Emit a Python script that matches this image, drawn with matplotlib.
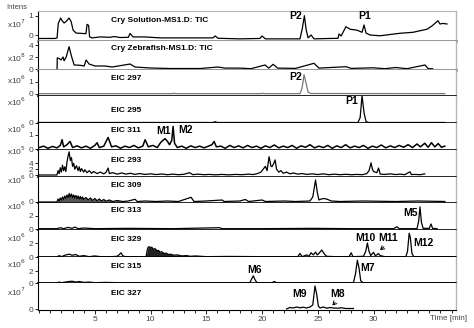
import matplotlib
matplotlib.use('Agg')
import matplotlib.pyplot as plt
from matplotlib.ticker import MultipleLocator

plt.rcParams['font.family'] = ['Liberation Sans', 'DejaVu Sans']

W, H = 474, 328

# ---- data (time in min, intensity in the unit of each panel) ----
tic_sol_t = [0.0, 1.43, 1.61, 1.72, 1.93, 2.06, 2.24, 2.42, 2.69, 2.87, 3.05, 3.32, 4.20, 4.30, 4.44,
             4.53, 4.75, 5.47, 6.37, 6.73, 7.26, 8.0, 8.16, 8.43, 9.5, 10.85, 12.6, 14.4, 15.6, 15.8,
             16.05, 18.0, 19.8, 20.0, 20.3, 23.4, 23.6, 23.8, 23.95, 24.13, 24.4, 24.66, 26.82, 26.9,
             27.09, 27.53, 27.89, 28.52, 28.97, 29.15, 29.33, 29.69, 30.58, 32.38, 33.54, 34.8, 35.25,
             35.78, 35.96, 36.23, 36.59]
tic_sol_y = [-0.18, -0.18, -0.15, 0.6, 0.88, 0.75, 0.62, 0.70, 0.88, 0.70, 0.25, 0.10, 0.07, 0.55, 0.50,
             -0.10, -0.15, -0.10, -0.12, -0.08, -0.13, -0.12, 0.08, -0.10, -0.10, -0.15, -0.15, -0.15, -0.15, -0.05,
             -0.17, -0.2, -0.18, -0.05, -0.2, -0.2, 0.3, 1.0, 0.3, -0.15, 0.0, -0.2, -0.17, 0.05,
             -0.05, 0.43, 0.3, 0.25, 0.14, 0.52, 0.1, 0.0, -0.04, 0.09, 0.14, 0.3, 0.47,
             0.74, 0.57, 0.6, 0.57]

tic_zf_t = [1.61, 1.63, 1.79, 1.97, 2.15, 2.24, 2.42, 2.69, 2.87, 3.14, 3.68, 4.04, 4.22, 4.48, 5.02,
            5.92, 6.55, 8.16, 8.61, 9.96, 11.75, 14.44, 16.05, 16.68, 18.03, 19.0, 20.27, 20.6, 21.0,
            21.4, 23.0, 24.66, 25.1, 27.53, 28.0, 30.0, 31.0, 32.0, 33.0, 34.62, 34.9, 35.3]
tic_zf_y = [0.0, 1.9, 1.8, 1.55, 2.05, 1.43, 2.0, 3.77, 2.4, 0.72, 0.67, 0.55, 1.55, 0.88, 0.55,
            0.55, 0.38, 0.88, 0.38, 0.22, 0.13, 0.13, 0.38, 0.2, 0.2, 0.1, 0.72, 0.2, 0.83,
            0.2, 0.15, 1.0, 0.2, 0.43, 0.15, 0.25, 0.1, 0.3, 0.1, 0.72, 0.1, 0.1]

eic297_t = [0.0, 12.0, 12.1, 12.2, 20.0, 20.1, 20.2, 23.41, 23.59, 23.77, 23.95, 24.13, 24.4, 36.4]
eic297_y = [0.03, 0.03, 0.07, 0.03, 0.03, 0.06, 0.03, 0.03, 0.5, 1.6, 0.9, 0.15, 0.04, 0.03]

eic295_t = [0.0, 15.6, 15.78, 16.0, 28.6, 28.8, 28.97, 29.15, 29.33, 29.6, 36.4]
eic295_y = [0.02, 0.02, 0.1, 0.02, 0.02, 0.5, 2.7, 1.0, 0.1, 0.02, 0.02]

eic311_t = [0.0, 0.4, 0.8, 1.2, 1.6, 1.9, 2.06, 2.2, 2.5, 2.78, 3.0, 3.4, 3.8, 4.2, 4.6, 5.0, 5.2, 5.4,
            5.8, 6.19, 6.5, 6.9, 7.3, 7.7, 8.1, 8.5, 8.9, 9.3, 9.51, 9.8, 10.2, 10.6, 10.9, 11.1, 11.3,
            11.5, 11.7, 11.9, 12.02, 12.15, 12.4, 12.8, 13.2, 13.6, 14.0, 14.4, 14.8, 15.2, 15.5, 15.7,
            15.9, 16.3, 16.7, 17.1, 17.5, 17.9, 18.3, 18.7, 19.1, 19.5, 19.9, 20.3, 20.7, 21.1, 21.5,
            21.9, 22.3, 22.7, 23.1, 23.5, 23.9, 24.3, 24.7, 25.1, 25.5, 25.9, 26.3, 26.7, 27.1, 27.5,
            27.9, 28.3, 28.7, 29.1, 29.5, 29.9, 30.3, 30.7, 31.1, 31.5, 31.9, 32.3, 32.7, 33.1, 33.5,
            33.9, 34.2, 34.6, 34.9, 35.2, 35.5, 35.8, 36.1, 36.4]
eic311_y = [0.1, 0.2, 0.05, 0.18, 0.08, 0.25, 0.65, 0.15, 0.3, 0.53, 0.1, 0.22, 0.08, 0.2, 0.05, 0.25, 0.44, 0.1,
            0.2, 0.81, 0.15, 0.22, 0.05, 0.2, 0.1, 0.25, 0.08, 0.2, 0.65, 0.15, 0.25, 0.1, 0.45, 0.6, 0.72,
            0.55, 0.3, 0.6, 1.58, 0.4, 0.1, 0.2, 0.05, 0.22, 0.1, 0.2, 0.08, 0.2, 0.3, 0.53,
            0.15, 0.2, 0.05, 0.25, 0.1, 0.22, 0.08, 0.25, 0.1, 0.2, 0.05, 0.22, 0.1, 0.28, 0.08,
            0.2, 0.1, 0.25, 0.05, 0.22, 0.12, 0.3, 0.08, 0.2, 0.1, 0.25, 0.05, 0.22, 0.1, 0.3,
            0.08, 0.2, 0.1, 0.25, 0.05, 0.2, 0.1, 0.28, 0.08, 0.22, 0.1, 0.25, 0.12, 0.3, 0.1,
            0.35, 0.15, 0.4, 0.12, 0.44, 0.15, 0.38, 0.12, 0.2]

eic293_t = [0.0, 1.6, 1.7, 1.8, 1.9, 2.0, 2.1, 2.2, 2.3, 2.4, 2.5, 2.6, 2.69, 2.8, 2.9, 3.0, 3.1, 3.2,
            3.35, 3.5, 3.6, 3.7, 3.8, 4.0, 4.1, 4.3, 4.5, 4.7, 4.9, 5.2, 5.5, 5.8, 6.0, 6.19, 6.3, 6.6,
            7.0, 7.4, 7.8, 8.2, 8.6, 9.0, 9.5, 10.0, 10.5, 11.0, 11.5, 12.0, 12.5, 13.0, 13.5, 13.8,
            14.2, 14.8, 15.3, 15.8, 16.4, 17.0, 17.6, 18.2, 18.8, 19.2, 19.6, 19.9, 20.1, 20.3, 20.45,
            20.63, 20.8, 20.9, 21.05, 21.17, 21.3, 21.5, 21.7, 21.9, 22.2, 22.5, 22.8, 23.2, 23.6, 24.0,
            24.5, 25.0, 25.5, 26.0, 26.5, 27.0, 27.5, 28.0, 28.5, 29.0, 29.4, 29.6, 29.78, 29.9, 30.0,
            30.3, 30.45, 30.6, 31.0, 31.5, 32.0, 32.4, 32.8, 33.27, 33.4, 33.7, 34.2, 34.6]
eic293_y = [0.0, 0.0, 1.5, 0.5, 2.5, 1.0, 3.4, 1.5, 2.8, 1.2, 4.5, 6.5, 8.0, 5.0, 6.0, 3.0, 4.0, 2.0,
            3.2, 1.5, 2.8, 1.2, 2.2, 1.0, 1.8, 0.8, 1.5, 0.6, 1.2, 0.5, 1.0, 0.4, 0.9, 2.4, 0.5, 0.8,
            0.3, 0.7, 0.3, 0.6, 0.2, 0.5, 0.2, 0.4, 0.15, 0.35, 0.1, 0.3, 0.1, 0.25, 0.8, 0.1,
            0.3, 0.1, 0.2, 0.05, 0.2, 0.05, 0.2, 0.1, 0.3, 0.15, 0.5, 1.0, 2.0, 3.0, 1.5,
            6.3, 3.0, 2.9, 4.0, 5.2, 2.0, 1.0, 1.5, 0.6, 1.0, 0.4, 0.7, 0.3, 0.5, 0.2,
            0.4, 0.15, 0.4, 0.1, 0.3, 0.1, 0.25, 0.1, 0.2, 0.1, 0.5, 1.5, 4.2, 2.0, 1.2,
            0.8, 2.4, 0.3, 0.2, 0.4, 0.15, 0.3, 0.1, 1.1, 0.15, 0.2, 0.1, 0.4]

eic309_t = [0.0, 1.6, 1.7, 1.8, 1.9, 2.0, 2.1, 2.2, 2.3, 2.4, 2.5, 2.6, 2.7, 2.8, 2.9, 3.0, 3.1, 3.2,
            3.3, 3.4, 3.5, 3.6, 3.7, 3.8, 3.9, 4.0, 4.2, 4.4, 4.6, 4.8, 5.0, 5.2, 5.4, 5.6, 5.8, 6.0,
            6.3, 6.6, 7.0, 7.5, 8.0, 8.61, 8.8, 9.5, 10.5, 11.5, 12.5, 13.63, 13.9, 15.0, 16.41, 16.6,
            18.0, 18.5, 18.8, 20.0, 20.3, 22.0, 23.0, 24.3, 24.55, 24.8, 24.95, 25.1, 25.3, 25.6, 25.9,
            26.2, 27.0, 29.0, 32.0, 34.0, 36.4]
eic309_y = [0.0, 0.0, 0.3, 0.1, 0.4, 0.2, 0.5, 0.25, 0.6, 0.35, 0.7, 0.45, 0.85, 0.5, 0.8, 0.45, 0.7, 0.4,
            0.65, 0.35, 0.6, 0.3, 0.55, 0.3, 0.5, 0.25, 0.45, 0.2, 0.4, 0.15, 0.35, 0.12, 0.3, 0.1, 0.25, 0.08,
            0.2, 0.05, 0.15, 0.05, 0.1, 0.27, 0.05, 0.1, 0.05, 0.1, 0.05, 0.47, 0.05, 0.1, 0.2, 0.05,
            0.1, 0.25, 0.05, 0.2, 0.05, 0.1, 0.05, 0.1, 0.5, 2.2, 1.0, 0.2, 0.3, 0.35, 0.25,
            0.1, 0.05, 0.1, 0.05, 0.1, 0.05]

eic313_t = [0.0, 1.6, 1.9, 2.2, 2.6, 2.96, 3.2, 3.5, 4.0, 5.0, 8.0, 12.0, 16.2, 16.4, 20.0, 24.5, 28.0,
            31.8, 32.1, 32.3, 33.9, 34.05, 34.17, 34.3, 34.45, 35.0, 35.16, 35.3, 35.7]
eic313_y = [0.05, 0.05, 0.2, 0.05, 0.25, 0.1, 0.3, 0.05, 0.15, 0.05, 0.1, 0.05, 0.2, 0.05, 0.05, 0.1, 0.05,
            0.05, 0.35, 0.05, 0.05, 1.2, 3.4, 1.0, 0.1, 0.1, 0.77, 0.1, 0.05]

eic329_t = [0.0, 1.6, 1.8, 2.0, 2.4, 2.7, 2.96, 3.3, 3.6, 4.0, 4.5, 5.0, 5.5, 6.5, 7.0, 7.2, 7.35, 7.5,
            7.7, 9.6, 9.7, 9.78, 9.9, 10.0, 10.1, 10.25, 10.4, 10.55, 10.7, 10.85, 11.0, 11.2, 11.4,
            11.6, 11.8, 12.1, 12.4, 12.8, 13.2, 13.6, 14.0, 15.0, 17.0, 20.0, 23.2, 23.4, 23.6, 24.0,
            24.2, 24.4, 24.6, 24.8, 24.95, 25.1, 25.35, 25.6, 25.8, 26.5, 27.8, 28.0, 28.15, 29.1,
            29.3, 29.45, 29.6, 29.75, 29.85, 30.0, 30.15, 30.3, 30.43, 30.6, 31.0, 32.9, 33.05, 33.2,
            33.3, 33.45, 33.6, 37.4]
eic329_y = [0.0, 0.0, 0.2, 0.05, 0.3, 0.4, 0.25, 0.35, 0.1, 0.2, 0.05, 0.15, 0.05, 0.05, 0.1, 0.35, 0.6, 0.2,
            0.05, 0.05, 1.0, 1.4, 1.47, 1.3, 1.4, 1.1, 1.2, 0.9, 0.95, 0.7, 0.75, 0.5, 0.55,
            0.35, 0.4, 0.25, 0.3, 0.15, 0.2, 0.1, 0.15, 0.05, 0.08, 0.05, 0.05, 0.5, 0.05, 0.3,
            0.1, 0.6, 0.3, 0.7, 0.3, 0.5, 1.0, 0.4, 0.1, 0.05, 0.05, 0.6, 0.05, 0.1,
            0.8, 2.0, 0.8, 0.2, 0.4, 0.67, 0.2, 0.3, 0.5, 0.2, 0.05, 0.05, 0.8, 3.4,
            2.8, 0.5, 0.05, 0.05]

eic315_t = [0.0, 1.6, 1.8, 2.0, 2.5, 2.96, 3.3, 3.6, 4.0, 4.5, 5.0, 6.0, 7.0, 18.9, 19.05, 19.22, 19.38,
            19.55, 20.9, 21.1, 21.3, 28.2, 28.38, 28.55, 28.7, 28.85, 29.05, 37.4]
eic315_y = [0.0, 0.0, 0.15, 0.05, 0.2, 0.3, 0.15, 0.25, 0.1, 0.15, 0.05, 0.1, 0.05, 0.05, 0.6, 1.2, 0.5,
            0.05, 0.05, 0.25, 0.05, 0.05, 1.5, 3.8, 2.5, 0.4, 0.05, 0.05]

eic327_t = [22.2, 22.5, 22.8, 23.1, 23.4, 23.7, 24.0, 24.3, 24.55, 24.75, 24.9, 25.05, 25.2, 25.5, 25.8,
            26.1, 26.4, 26.8, 27.17, 27.5, 28.2]
eic327_y = [0.0, 0.15, 0.1, 0.2, 0.12, 0.18, 0.1, 0.2, 0.4, 2.3, 1.5, 0.3, 0.1, 0.2, 0.08,
            0.15, 0.1, 0.08, 0.12, 0.05, 0.05]

titles = ['Cry Solution-MS1.D: TIC', 'Cry Zebrafish-MS1.D: TIC', 'EIC 297', 'EIC 295', 'EIC 311',
          'EIC 293', 'EIC 309', 'EIC 313', 'EIC 329', 'EIC 315', 'EIC 327']
exponents = [7, 8, 6, 6, 6, 5, 6, 6, 6, 6, 7]
yticks = [[0, 1], [0, 2, 4], [0, 1], [0], [0, 1], [0, 2, 4], [0], [0, 2], [0, 2], [0, 2], [0]]
traces = [(tic_sol_t, tic_sol_y), (tic_zf_t, tic_zf_y), (eic297_t, eic297_y), (eic295_t, eic295_y),
          (eic311_t, eic311_y), (eic293_t, eic293_y), (eic309_t, eic309_y), (eic313_t, eic313_y),
          (eic329_t, eic329_y), (eic315_t, eic315_y), (eic327_t, eic327_y)]

# peak labels: text, time position, pixel row
peak_labels = [('P2', 23.0, 16), ('P1', 29.2, 16), ('P2', 23.0, 77), ('P1', 28.0, 101),
               ('M1', 11.2, 131), ('M2', 13.1, 130), ('M5', 33.3, 213), ('M10', 29.3, 238),
               ('M11', 31.3, 238), ('M12', 34.45, 243), ('M6', 19.3, 270), ('M7', 29.5, 268),
               ('M9', 23.4, 294), ('M8', 26.8, 294)]

# ---- layout in pixels: panel top, bottom, zero row, pixels per unit ----
tops = [11, 41, 70, 96, 123, 150, 177, 203, 230, 257, 283]
bots = [41, 70, 96, 123, 150, 177, 203, 230, 257, 283, 310]
zeros = [35, 69.3, 94, 122.7, 149, 175, 202, 229, 257, 283, 309]
ppu = [19.3, 6, 12, 10, 14.3, 2.9, 10, 6.5, 7, 6, 10]
title_rows = [20.7, 48.3, 79, 110, 130.7, 161, 185.7, 210.7, 239.3, 266.7, 293.3]
exp_rows = [24, 58, 80, 102, 129, 151, 180, 206, 238, 264, 292]

X0, X1 = 38, 456
T0, T1 = -0.1, 37.4

fig = plt.figure(figsize=(W / 100, H / 100), dpi=100)

def fy(py):
    return 1 - py / H

axes = []
for i in range(11):
    ax = fig.add_axes([X0 / W, fy(bots[i]), (X1 - X0) / W, (bots[i] - tops[i]) / H])
    ax.set_xlim(T0, T1)
    ax.set_ylim((zeros[i] - bots[i]) / ppu[i], (zeros[i] - tops[i]) / ppu[i])
    t, y = traces[i]
    col = '#777777' if i == 2 else 'black'
    ax.plot(t, y, color=col, lw=1.1 if i == 4 else 0.9)
    if i == 6:
        ax.fill_between(t[:40], 0, y[:40], color='#555555', lw=0)
    if i == 8:
        ax.fill_between(t[19:41], 0, y[19:41], color='#222222', lw=0)
    ax.spines['top'].set_visible(False)
    ax.spines['left'].set_linewidth(0.8)
    ax.spines['right'].set_color('#b5b5b5')
    ax.spines['right'].set_linewidth(1.0)
    if i == 0:
        ax.spines['top'].set_visible(True)
        ax.spines['top'].set_color('#b5b5b5')
    if i in (0, 1):
        ax.spines['bottom'].set_color('#8c8c8c')
        ax.spines['bottom'].set_linewidth(2.0)
    else:
        ax.spines['bottom'].set_linewidth(1.2)
    ax.set_yticks(yticks[i])
    ax.tick_params(axis='y', direction='out', length=2, width=0.6, labelsize=6,
                   labelcolor='#444444', pad=1.5)
    if i < 10:
        ax.tick_params(axis='x', bottom=False, labelbottom=False)
    fig.text(111 / W, fy(title_rows[i]), titles[i], fontsize=6.0, fontweight='bold',
             ha='left', va='center')
    fig.text(7 / W, fy(exp_rows[i]), r'x10$^{%d}$' % exponents[i], fontsize=6,
             color='#444444', ha='left', va='center')
    axes.append(ax)

# bottom axis
ax = axes[-1]
ax.spines['bottom'].set_linewidth(0.8)
ax.set_xticks([5, 10, 15, 20, 25, 30])
ax.xaxis.set_minor_locator(MultipleLocator(1))
ax.tick_params(axis='x', which='major', direction='out', length=3, width=0.6,
               labelsize=6, labelcolor='#444444', pad=1.5)
ax.tick_params(axis='x', which='minor', direction='out', length=2, width=0.6)

fig.text(17 / W, fy(7.5), 'Intens', fontsize=5.5, color='#444444', ha='center', va='center')
fig.text(449 / W, fy(319), 'Time [min]', fontsize=5.8, color='#444444', ha='center', va='center')

for txt, tx, row in peak_labels:
    xf = (X0 + (tx - T0) / (T1 - T0) * (X1 - X0)) / W
    fig.text(xf, fy(row), txt, fontsize=7.5, fontweight='bold', ha='center', va='center')

# arrows for M11 and M8
for (x_tail, y_tail, x_head, y_head) in [(386, 245, 378, 252), (337, 300.5, 330.5, 307.5)]:
    fig.add_artist(matplotlib.patches.FancyArrowPatch(
        (x_tail / W, fy(y_tail)), (x_head / W, fy(y_head)), transform=fig.transFigure,
        arrowstyle='->,head_length=2.5,head_width=1.5', color='black', lw=0.7))

fig.savefig('out.png', dpi=100)
